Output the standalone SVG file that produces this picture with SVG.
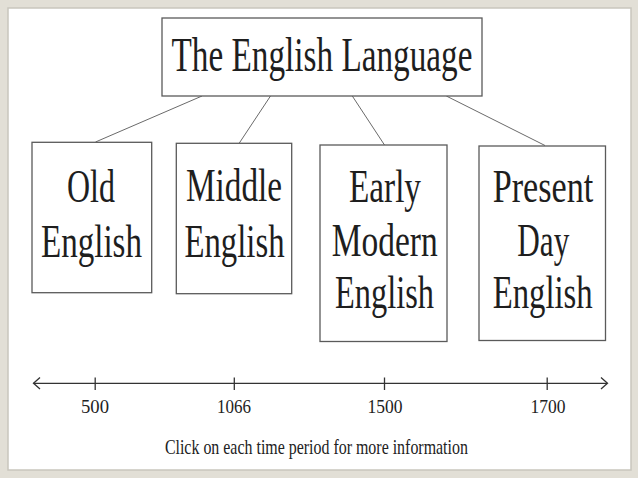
<svg xmlns="http://www.w3.org/2000/svg" width="638" height="478" viewBox="0 0 638 478">
  <defs>
    <style>
      .box { fill: #ffffff; stroke: #5a5a5a; stroke-width: 1.3; }
      .big { font-family: "Liberation Serif", "DejaVu Serif", serif; font-size: 46px; fill: #1e1e1e; text-anchor: middle; }
      .title { font-family: "Liberation Serif", "DejaVu Serif", serif; font-size: 48px; fill: #1e1e1e; text-anchor: middle; }
      .num { font-family: "Liberation Serif", "DejaVu Serif", serif; font-size: 18px; fill: #222222; text-anchor: middle; }
      .cap { font-family: "Liberation Serif", "DejaVu Serif", serif; font-size: 21px; fill: #222222; text-anchor: middle; }
      .conn { stroke: #6a6a6a; stroke-width: 1; fill: none; }
      .axis { stroke: #333333; stroke-width: 1.3; fill: none; }
    </style>
  </defs>

  <!-- frame -->
  <rect x="0" y="0" width="638" height="478" fill="#e2dfd6"/>
  <rect x="8" y="8" width="623" height="462" fill="#ffffff" stroke="#c9c6bd" stroke-width="1.5"/>

  <!-- connectors -->
  <g id="connectors">
    <line class="conn" x1="202" y1="96" x2="95.5" y2="142" stroke="#444444"/>
    <line class="conn" x1="270.5" y1="96" x2="239" y2="143.5"/>
    <line class="conn" x1="352.3" y1="96" x2="384.5" y2="145"/>
    <line class="conn" x1="446.3" y1="96" x2="545" y2="145.5"/>
  </g>

  <g id="title">
    <rect class="box" x="162" y="18" width="320" height="78"/>
    <text class="title" x="322" y="71" textLength="301" lengthAdjust="spacingAndGlyphs">The English Language</text>
  </g>

  <g id="old-english">
    <rect class="box" x="32" y="142.3" width="119.7" height="150.4"/>
    <text class="big" x="91" y="202" textLength="48" lengthAdjust="spacingAndGlyphs">Old</text>
    <text class="big" x="91.5" y="257" textLength="101" lengthAdjust="spacingAndGlyphs">English</text>
  </g>

  <g id="middle-english">
    <rect class="box" x="176.3" y="143.3" width="115.4" height="150.4"/>
    <text class="big" x="234" y="201" textLength="96" lengthAdjust="spacingAndGlyphs">Middle</text>
    <text class="big" x="234.5" y="256.5" textLength="100" lengthAdjust="spacingAndGlyphs">English</text>
  </g>

  <g id="early-modern-english">
    <rect class="box" x="320" y="145" width="127" height="196.5"/>
    <text class="big" x="385" y="201.5" textLength="72" lengthAdjust="spacingAndGlyphs">Early</text>
    <text class="big" x="384.7" y="256" textLength="106" lengthAdjust="spacingAndGlyphs">Modern</text>
    <text class="big" x="384.5" y="308" textLength="99" lengthAdjust="spacingAndGlyphs">English</text>
  </g>

  <g id="present-day-english">
    <rect class="box" x="479" y="146" width="126.5" height="194.5"/>
    <text class="big" x="543" y="201.5" textLength="100.6" lengthAdjust="spacingAndGlyphs">Present</text>
    <text class="big" x="543.3" y="256" textLength="52" lengthAdjust="spacingAndGlyphs">Day</text>
    <text class="big" x="542.7" y="308" textLength="100" lengthAdjust="spacingAndGlyphs">English</text>
  </g>

  <g id="timeline">
    <line class="axis" x1="33.5" y1="383.3" x2="607" y2="383.3"/>
    <polyline class="axis" points="40,377.5 33.5,383.3 40,389"/>
    <polyline class="axis" points="601,377.5 607.5,383.3 601,389"/>
    <line class="axis" x1="95.2" y1="377.5" x2="95.2" y2="390"/>
    <line class="axis" x1="234.3" y1="377.5" x2="234.3" y2="390"/>
    <line class="axis" x1="384.5" y1="377.5" x2="384.5" y2="390"/>
    <line class="axis" x1="547.2" y1="377.5" x2="547.2" y2="390"/>
    <text class="num" x="95" y="413" textLength="28" lengthAdjust="spacingAndGlyphs">500</text>
    <text class="num" x="234" y="413" textLength="34" lengthAdjust="spacingAndGlyphs">1066</text>
    <text class="num" x="385" y="413" textLength="35" lengthAdjust="spacingAndGlyphs">1500</text>
    <text class="num" x="548" y="413" textLength="35" lengthAdjust="spacingAndGlyphs">1700</text>
    <text class="cap" x="316.4" y="454.3" textLength="303" lengthAdjust="spacingAndGlyphs">Click on each time period for more information</text>
  </g>
</svg>
